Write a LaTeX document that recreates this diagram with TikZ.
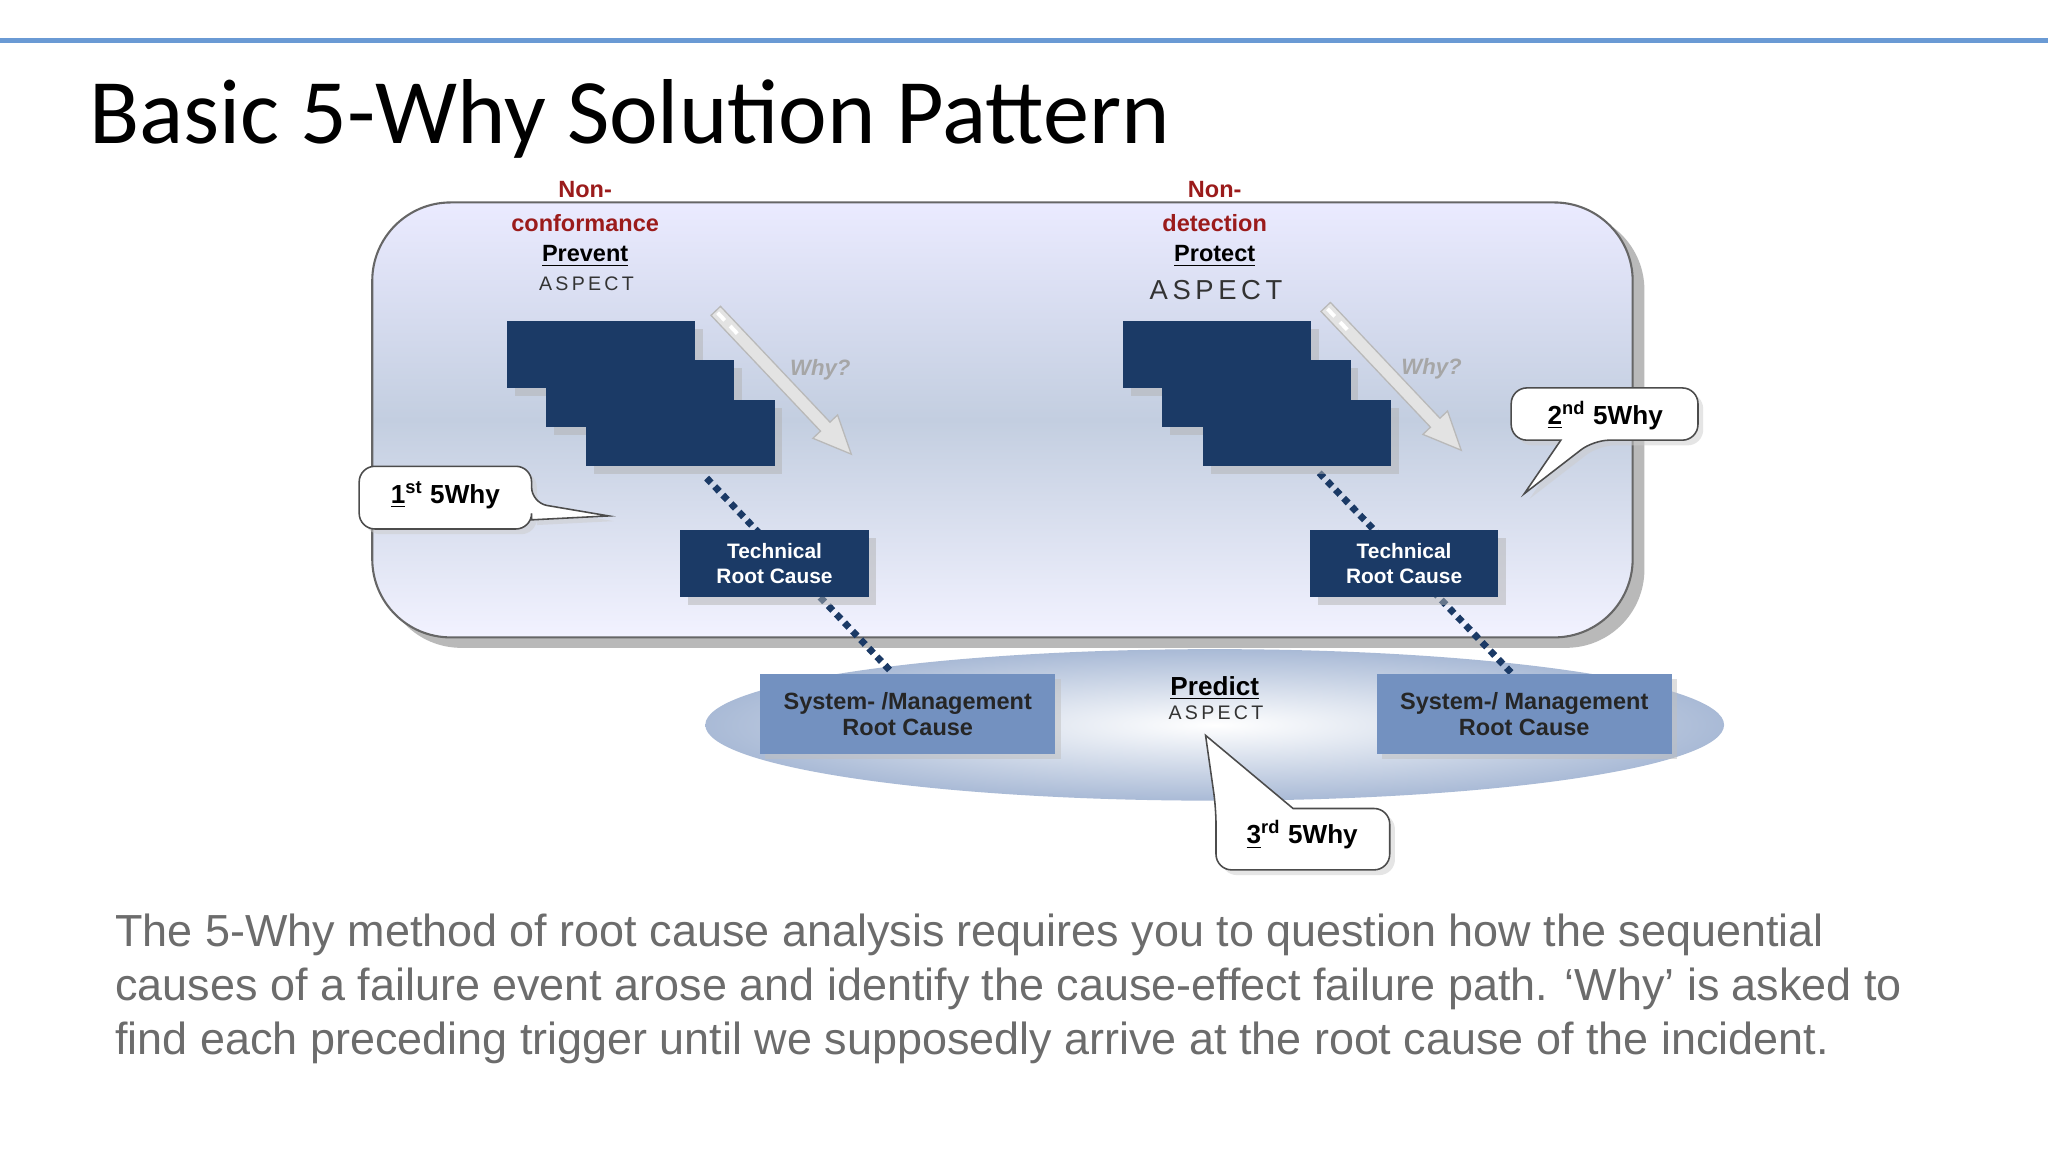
\documentclass[tikz,border=0pt]{standalone}
\usepackage{fontspec}
\setmainfont{Liberation Sans}
\newfontfamily\titlefont{Carlito}
\usetikzlibrary{shadows,arrows.meta,calc}
\definecolor{navy}{HTML}{1B3A66}
\definecolor{sysb}{HTML}{7391C0}
\definecolor{topline}{HTML}{6A9AD4}
\definecolor{darkred}{HTML}{9B1B1B}
\definecolor{panelmid}{HTML}{C3CEE0}
\definecolor{ellout}{HTML}{A9BAD6}
\begin{document}
\begin{tikzpicture}[x=0.5pt,y=-0.5pt,
  navybox/.style={draw=none,fill=navy,drop shadow={shadow xshift=3pt,shadow yshift=-3pt,fill=gray!60}},
  lab/.style={font=\bfseries\fontsize{9}{10}\selectfont,align=center},
  boxlab/.style={font=\bfseries\fontsize{8}{9.5}\selectfont,align=center},
  callout/.style={draw=black!70,fill=white,line width=0.6pt,rounded corners=6pt,drop shadow={shadow xshift=2pt,shadow yshift=-2pt,fill=gray!40}},
  dotl/.style={navy,line width=2.6pt,dash pattern=on 2.5pt off 2pt},
  whyarrow/.style={fill=gray!22,draw=gray!55,line width=0.5pt},
  whytext/.style={font=\itshape\bfseries\fontsize{8.5}{10}\selectfont,text=gray!70}]
\useasboundingbox (0,0) rectangle (1568,882);
\fill[white] (0,0) rectangle (1568,882);
\draw[topline,line width=1.6pt] (0,31) -- (1568,31);
\node[anchor=base west,inner sep=0,font=\titlefont\fontsize{35.3}{38}\selectfont] (title) at (68,110) {Basic 5-Why Solution Pattern};
% big rounded panel
\fill[gray!55,rounded corners=30pt] (293,162) rectangle (1259,496);
\shade[top color=white!92!blue,bottom color=white!95!blue,middle color=panelmid,draw=black!60,line width=0.8pt,rounded corners=30pt] (285,155) rectangle (1250,488);
% ellipse
\shade[inner color=white,outer color=ellout] (930,555) ellipse [x radius=390,y radius=58];
% aspect labels
\node[lab,text=darkred] (nc1) at (448,145) {Non-};
\node[lab,text=darkred] (nc2) at (448,171) {conformance};
\node[lab] (prev) at (448,196) {\underline{Prevent}};
\node[font=\fontsize{7.5}{9}\selectfont,text=black!80] (asp1) at (449,217) {A\,S\,P\,E\,C\,T};
\node[lab,text=darkred] (nd1) at (930,145) {Non-};
\node[lab,text=darkred] (nd2) at (930,171) {detection};
\node[lab] (prot) at (930,196) {\underline{Protect}};
\node[font=\fontsize{10.5}{12}\selectfont,text=black!80] (asp2) at (931,222) {A\,S\,P\,E\,C\,T};
% why arrows (polygon shapes along direction)
\foreach \sx/\sy/\ex/\ey/\nm in {548/238/652/348/a1,1015/235/1120/348/a2}{
  \begin{scope}[shift={(\sx,\sy)},rotate=-46.6]
    % length ~151 in px units along +x after rotation (y axis flipped)
    \path[whyarrow] (0,-5) -- (122,-5) -- (122,-13) -- (151,0) -- (122,13) -- (122,5) -- (0,5) -- cycle;
    \draw[white,line width=1.5pt,dash pattern=on 4pt off 3pt] (2,0) -- (26,0);
  \end{scope}
}
\node[whytext] (why1) at (628,283) {Why?};
\node[whytext] (why2) at (1096,282) {Why?};
% dotted lines
\coordinate (d1a) at (541,366); \coordinate (d1b) at (683,515);
\coordinate (d2a) at (1010,362); \coordinate (d2b) at (1157,515);
\draw[dotl] (d1a) -- (d1b);
\draw[dotl] (d2a) -- (d2b);
% stacked boxes
\foreach \dx/\dy [count=\i] in {0/0,30/30,61/60}{
  \node[navybox,minimum width=72pt,minimum height=25.5pt,inner sep=0] (L\i) at (460+\dx,271.5+\dy) {};
  \node[navybox,minimum width=72pt,minimum height=25.5pt,inner sep=0] (R\i) at (932+\dx,271.5+\dy) {};
}
% technical root cause
\node[navybox,minimum width=72pt,minimum height=25.5pt,inner sep=0,boxlab,text=white] (t1) at (593,431.5) {Technical\\Root Cause};
\node[navybox,minimum width=72pt,minimum height=25.5pt,inner sep=0,boxlab,text=white] (t2) at (1075,431.5) {Technical\\Root Cause};
% system boxes
\node[fill=sysb,minimum width=113pt,minimum height=30.5pt,inner sep=0,lab,text=black!85,drop shadow={shadow xshift=2pt,shadow yshift=-2pt,fill=gray!50}] (s1) at (695,546.5) {System- /Management\\Root Cause};
\node[fill=sysb,minimum width=113pt,minimum height=30.5pt,inner sep=0,lab,text=black!85,drop shadow={shadow xshift=2pt,shadow yshift=-2pt,fill=gray!50}] (s2) at (1167,546.5) {System-/ Management\\Root Cause};
\node[lab,font=\bfseries\fontsize{10}{12}\selectfont] (pred) at (930,527) {\underline{Predict}};
\node[font=\fontsize{7.5}{9}\selectfont,text=black!80] (asp3) at (931,546) {A\,S\,P\,E\,C\,T};
% callouts
\draw[callout] (275,357) -- (407,357) -- (407,385) [sharp corners] -- (466,395) -- (407,398) [rounded corners=6pt] -- (407,405) -- (275,405) -- cycle;
\node[lab,font=\bfseries\fontsize{10}{12}\selectfont] (c1) at (341,379) {\underline{1}\textsuperscript{st} 5Why};
\draw[callout] (1157,297) -- (1300,297) -- (1300,337) -- (1220,337) [sharp corners] -- (1167,378) -- (1195,337) [rounded corners=6pt] -- (1157,337) -- cycle;
\node[lab,font=\bfseries\fontsize{10}{12}\selectfont] (c2) at (1229,318) {\underline{2}\textsuperscript{nd} 5Why};
\draw[callout] (931,619) [sharp corners] -- (923,563) -- (990,619) [rounded corners=6pt] -- (1064,619) -- (1064,666) -- (931,666) -- cycle;
\node[lab,font=\bfseries\fontsize{10}{12}\selectfont] (c3) at (997,639) {\underline{3}\textsuperscript{rd} 5Why};
% body text
\node[anchor=north west,inner sep=0,align=left,text=gray!85!black,font=\fontsize{17.2}{20.8}\selectfont] (body) at (88,699)
{The 5-Why method of root cause analysis requires you to question how the sequential\\
causes of a failure event arose and identify the cause-effect failure path. ‘Why’ is asked to\\
find each preceding trigger until we supposedly arrive at the root cause of the incident.};
\end{tikzpicture}
\end{document}
